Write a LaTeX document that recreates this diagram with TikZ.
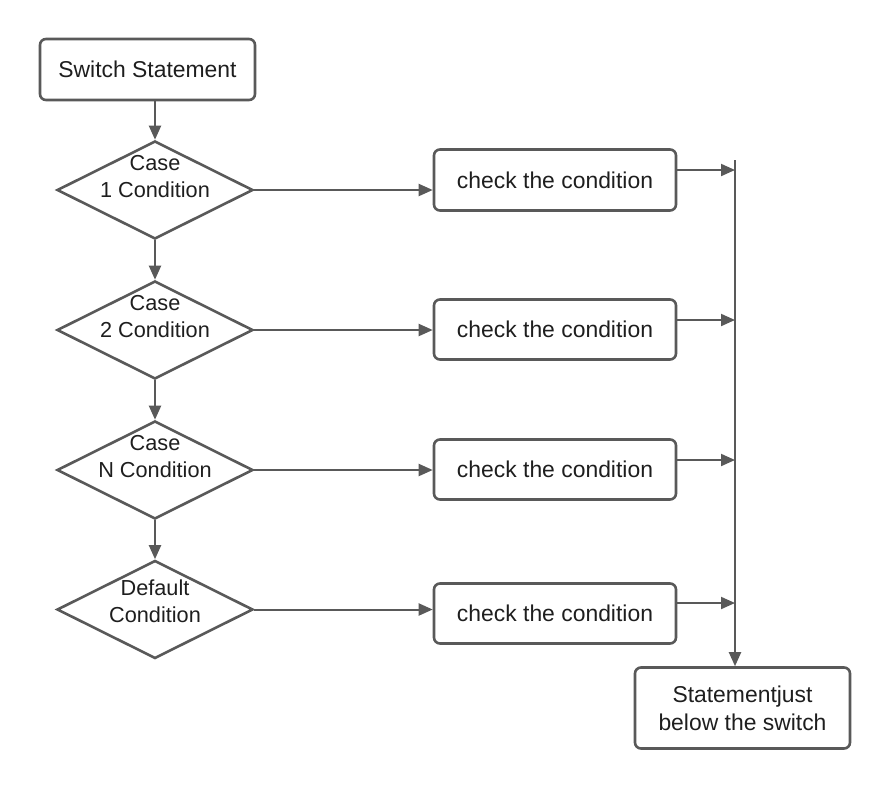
\documentclass[tikz,border=0pt]{standalone}
\usepackage{fontspec}
\setmainfont{Liberation Sans}
\usetikzlibrary{shapes.geometric,arrows.meta}
\definecolor{linegray}{HTML}{595959}
\definecolor{inkgray}{HTML}{1E1E1E}

\begin{document}
\begin{tikzpicture}[x=1pt,y=-1pt,
    box/.style={draw=linegray,line width=2.6pt,rounded corners=6pt,text=inkgray,
      font=\fontsize{22.9}{28}\selectfont,align=center,inner sep=0pt},
    cond/.style={draw=linegray,line width=2.6pt,diamond,minimum width=196pt,
      minimum height=98pt,inner sep=0pt},
    condtext/.style={text=inkgray,font=\fontsize{21.7}{27}\selectfont,align=center,inner sep=0pt},
    flow/.style={draw=linegray,line width=2pt,-{Triangle[length=14pt,width=12pt]}}]
    \useasboundingbox (0,0) rectangle (890,790);

    \node[box,minimum width=215pt,minimum height=61pt]
      (switch) at (147.5,69.5) {Switch Statement};

    \node[cond] (d1) at (155,190) {};
    \node[cond] (d2) at (155,330) {};
    \node[cond] (d3) at (155,470) {};
    \node[cond] (d4) at (155,609.5) {};
    \node[condtext] (t1) at ([yshift=13pt]d1.center) {Case\\1 Condition};
    \node[condtext] (t2) at ([yshift=13pt]d2.center) {Case\\2 Condition};
    \node[condtext] (t3) at ([yshift=13pt]d3.center) {Case\\N Condition};
    \node[condtext] (t4) at ([yshift=8.5pt]d4.center) {Default\\Condition};

    \node[box,minimum width=242pt,minimum height=61pt] (c1) at (555,180) {check the condition};
    \node[box,minimum width=242pt,minimum height=60pt] (c2) at (555,329.5) {check the condition};
    \node[box,minimum width=242pt,minimum height=60pt] (c3) at (555,469.5) {check the condition};
    \node[box,minimum width=242pt,minimum height=60pt] (c4) at (555,613.5) {check the condition};

    \node[box,minimum width=215pt,minimum height=81pt] (after) at (742.5,708)
      {Statementjust\\below the switch};

    \coordinate (bustop) at (735,160);
    \coordinate (j1) at (735,170);
    \coordinate (j2) at (735,320);
    \coordinate (j3) at (735,460);
    \coordinate (j4) at (735,603);

    \draw[flow] (switch.south -| d1.north) -- (d1.north);
    \draw[flow] (d1.south) -- (d2.north);
    \draw[flow] (d2.south) -- (d3.north);
    \draw[flow] (d3.south) -- (d4.north);

    \draw[flow] (d1.east) -- (d1.east -| c1.west);
    \draw[flow] (d2.east) -- (d2.east -| c2.west);
    \draw[flow] (d3.east) -- (d3.east -| c3.west);
    \draw[flow] (d4.east) -- (d4.east -| c4.west);

    \draw[flow] (j1 -| c1.east) -- (j1);
    \draw[flow] (j2 -| c2.east) -- (j2);
    \draw[flow] (j3 -| c3.east) -- (j3);
    \draw[flow] (j4 -| c4.east) -- (j4);

    \draw[flow] (bustop) -- (bustop |- after.north);
  \end{tikzpicture}
\end{document}
